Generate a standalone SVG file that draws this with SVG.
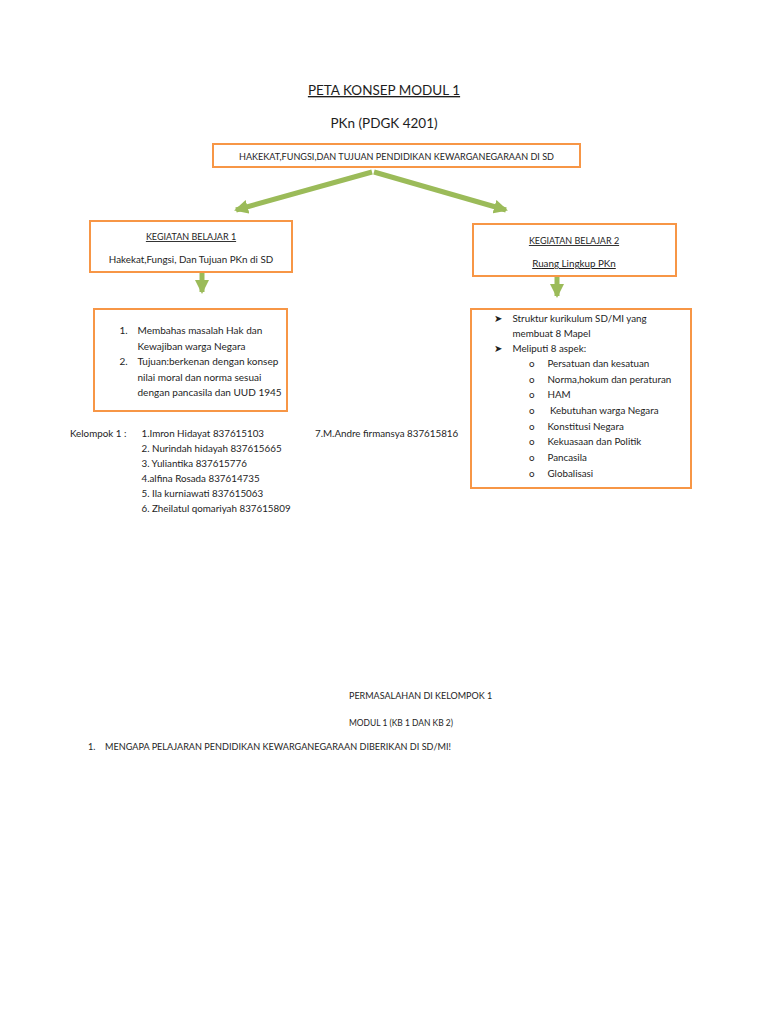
<svg xmlns="http://www.w3.org/2000/svg" width="768" height="1024" viewBox="0 0 768 1024">
<style>
text{font-family:Lato,"Open Sans","Liberation Sans",sans-serif;fill:#1e1e1e}
.box{fill:#fff;stroke:#f79646;stroke-width:2}
.t{font-size:9.8px}
.l{font-size:10px}
.s{font-size:9px}
.h{font-size:13.5px}
.u{text-decoration:underline}
.c{text-anchor:middle}
.con{stroke:#9bbb59;stroke-width:5;fill:none}
</style>
<defs>
<marker id="ah" markerUnits="userSpaceOnUse" markerWidth="14" markerHeight="14" refX="12" refY="7" orient="auto" viewBox="0 0 14 14">
<path d="M0,0 L14,7 L0,14 z" fill="#9bbb59"/>
</marker>
</defs>
<rect width="768" height="1024" fill="#fff"/>
<g id="title">
<text class="h u c" x="384" y="95">PETA KONSEP MODUL 1</text>
<text class="h c" x="384" y="128">PKn (PDGK 4201)</text>
</g>
<g id="connectors">
<line class="con" x1="372" y1="172" x2="236" y2="210" marker-end="url(#ah)"/>
<line class="con" x1="374" y1="172" x2="506" y2="210" marker-end="url(#ah)"/>
<line class="con" x1="202" y1="273" x2="202" y2="292" marker-end="url(#ah)"/>
<line class="con" x1="557" y1="277" x2="557" y2="296" marker-end="url(#ah)"/>
</g>
<g id="n-main">
<rect class="box" x="213" y="144" width="367" height="23"/>
<text class="s" x="239" y="159.5" textLength="315" lengthAdjust="spacingAndGlyphs">HAKEKAT,FUNGSI,DAN TUJUAN PENDIDIKAN KEWARGANEGARAAN DI SD</text>
</g>
<g id="n-kb1">
<rect class="box" x="90" y="221" width="202" height="51"/>
<text class="s u c" x="191" y="240">KEGIATAN BELAJAR 1</text>
<text class="t c" x="191" y="263">Hakekat,Fungsi, Dan Tujuan PKn di SD</text>
</g>
<g id="n-kb2">
<rect class="box" x="473" y="224" width="203" height="52"/>
<text class="s u c" x="574" y="244">KEGIATAN BELAJAR 2</text>
<text class="t u c" x="574" y="267">Ruang Lingkup PKn</text>
</g>
<g id="n-kb1-detail">
<rect class="box" x="94" y="309" width="193" height="102"/>
<text class="l" x="119.5" y="334">1.</text>
<text class="l" x="137.5" y="334">Membahas masalah Hak dan</text>
<text class="l" x="137.5" y="349.5">Kewajiban warga Negara</text>
<text class="l" x="119.5" y="365">2.</text>
<text class="l" x="137.5" y="365">Tujuan:berkenan dengan konsep</text>
<text class="l" x="137.5" y="380.5">nilai moral dan norma sesuai</text>
<text class="l" x="137.5" y="396">dengan pancasila dan UUD 1945</text>
</g>
<g id="n-kb2-detail">
<rect class="box" x="471" y="309" width="220" height="179"/>
<text class="t" x="494" y="321.5">➤</text>
<text class="t" x="512.5" y="321.5">Struktur kurikulum SD/MI yang</text>
<text class="t" x="512.5" y="337">membuat 8 Mapel</text>
<text class="t" x="494" y="352">➤</text>
<text class="t" x="512.5" y="352">Meliputi 8 aspek:</text>
<text class="t" x="529" y="367">o</text><text class="t" x="547.5" y="367">Persatuan dan kesatuan</text>
<text class="t" x="529" y="382.5">o</text><text class="t" x="547.5" y="382.5">Norma,hokum dan peraturan</text>
<text class="t" x="529" y="398">o</text><text class="t" x="547.5" y="398">HAM</text>
<text class="t" x="529" y="413.5">o</text><text class="t" x="550" y="413.5">Kebutuhan warga Negara</text>
<text class="t" x="529" y="429.5">o</text><text class="t" x="547.5" y="429.5">Konstitusi Negara</text>
<text class="t" x="529" y="445">o</text><text class="t" x="547.5" y="445">Kekuasaan dan Politik</text>
<text class="t" x="529" y="460.5">o</text><text class="t" x="547.5" y="460.5">Pancasila</text>
<text class="t" x="529" y="476.5">o</text><text class="t" x="547.5" y="476.5">Globalisasi</text>
</g>
<g id="kelompok">
<text class="t" x="70" y="436.5">Kelompok 1 :</text>
<text class="t" x="141.5" y="436.5">1.Imron Hidayat 837615103</text>
<text class="t" x="315" y="436.5">7.M.Andre firmansya 837615816</text>
<text class="t" x="141.5" y="451.5">2. Nurindah hidayah 837615665</text>
<text class="t" x="141.5" y="466.5">3. Yuliantika 837615776</text>
<text class="t" x="141.5" y="481.5">4.alfina Rosada 837614735</text>
<text class="t" x="141.5" y="496.5">5. Ila kurniawati 837615063</text>
<text class="t" x="141.5" y="511.5">6. Zheilatul qomariyah 837615809</text>
</g>
<g id="permasalahan">
<text class="s" x="349" y="698.5">PERMASALAHAN DI KELOMPOK 1</text>
<text class="s" x="349" y="725.5" textLength="104" lengthAdjust="spacingAndGlyphs">MODUL 1 (KB 1 DAN KB 2)</text>
<text class="s" x="88" y="750">1.</text>
<text class="s" x="105" y="750" textLength="346" lengthAdjust="spacingAndGlyphs">MENGAPA PELAJARAN PENDIDIKAN KEWARGANEGARAAN DIBERIKAN DI SD/MI!</text>
</g>
</svg>
